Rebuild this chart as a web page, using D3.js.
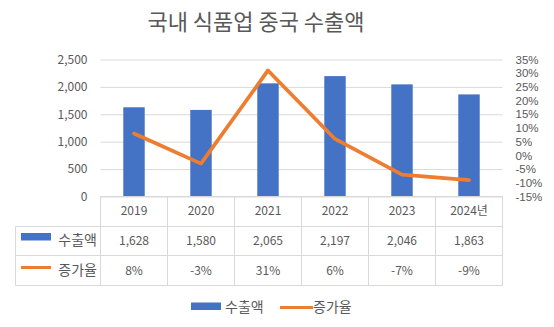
<!DOCTYPE html>
<html>
<head>
<meta charset="utf-8">
<script src="https://cdn.jsdelivr.net/npm/d3@7/dist/d3.min.js"></script>
<style>
  html, body { margin: 0; padding: 0; background: #fff; }
  svg text { font-family: "Noto Sans CJK KR", "Noto Sans", sans-serif; fill: #595959; }
</style>
</head>
<body>
<svg id="chart" width="554" height="327"></svg>
<script>
// Data
const title = "국내 식품업 중국 수출액";
const years = ["2019", "2020", "2021", "2022", "2023", "2024년"];
const exports = [1628, 1580, 2065, 2197, 2046, 1863];
const growth = [8, -3, 31, 6, -7, -9];
const leftTicks = [0, 500, 1000, 1500, 2000, 2500];
const rightTicks = [-15, -10, -5, 0, 5, 10, 15, 20, 25, 30, 35];
const seriesNames = ["수출액", "증가율"];

const blue = "#4472C4", orange = "#ED7D31", grid = "#d9d9d9", textCol = "#595959";

const svg = d3.select("#chart");

const plot = { left: 100.5, right: 502.5, top: 59.5, bottom: 196.5 };
const table = { left: 15.5, rows: [196.5, 226.5, 255.5, 285.5] };

const x = d3.scaleBand().domain(years).range([plot.left, plot.right]).padding(0);
const yL = d3.scaleLinear().domain([0, 2500]).range([plot.bottom, plot.top]);
const yR = d3.scaleLinear().domain([-15, 35]).range([plot.bottom, plot.top]);

// Title
svg.append("text").attr("x", 256).attr("y", 30)
  .attr("text-anchor", "middle").style("font-size", "22px").text(title);

// Left axis with gridlines
const gL = svg.append("g").attr("transform", `translate(${plot.left},0)`)
  .call(d3.axisLeft(yL).tickValues(leftTicks).tickFormat(d3.format(",")).tickSize(-(plot.right - plot.left)).tickPadding(13));
gL.select(".domain").remove();
gL.selectAll(".tick line").attr("stroke", grid);
gL.selectAll(".tick text").style("font-size", "12px").attr("fill", textCol);

// Right axis (tight spacing, so a compact face is used)
const gR = svg.append("g").attr("transform", `translate(${plot.right},0)`)
  .call(d3.axisRight(yR).tickValues(rightTicks).tickFormat(d => d + "%").tickSize(0).tickPadding(13));
gR.select(".domain").remove();
gR.selectAll(".tick text")
  .style("font-family", "'Liberation Sans', Arial, sans-serif")
  .style("font-size", "11.5px").attr("fill", textCol);

// Bars
const bw = x.bandwidth() * 0.32;
svg.append("g").selectAll("rect").data(exports).join("rect")
  .attr("x", (d, i) => x(years[i]) + (x.bandwidth() - bw) / 2)
  .attr("width", bw)
  .attr("y", d => yL(d))
  .attr("height", d => yL(0) - yL(d))
  .attr("fill", blue);

// Growth line
const line = d3.line()
  .x((d, i) => x(years[i]) + x.bandwidth() / 2)
  .y(d => yR(d));
svg.append("path").datum(growth)
  .attr("d", line).attr("fill", "none")
  .attr("stroke", orange).attr("stroke-width", 3.75)
  .attr("stroke-linejoin", "round").attr("stroke-linecap", "round");

// Data table
const tg = svg.append("g");
// horizontal rules
tg.selectAll("line.h").data(table.rows).join("line")
  .attr("x1", (d, i) => i === 0 ? plot.left : table.left).attr("x2", plot.right)
  .attr("y1", d => d).attr("y2", d => d)
  .attr("stroke", grid);
// vertical rules
const vx = years.map(y => x(y)).concat([plot.right]);
tg.selectAll("line.v").data(vx).join("line")
  .attr("x1", d => d).attr("x2", d => d)
  .attr("y1", table.rows[0]).attr("y2", table.rows[3])
  .attr("stroke", grid);
tg.append("line").attr("x1", table.left).attr("x2", table.left)
  .attr("y1", table.rows[1]).attr("y2", table.rows[3]).attr("stroke", grid);

const cx = (i) => x(years[i]) + x.bandwidth() / 2;
// header row
tg.selectAll("text.year").data(years).join("text")
  .attr("x", (d, i) => cx(i)).attr("y", 211).attr("dy", "0.35em")
  .attr("text-anchor", "middle").style("font-size", "12px").text(d => d);
tg.selectAll("text.exp").data(exports).join("text")
  .attr("x", (d, i) => cx(i)).attr("y", 241).attr("dy", "0.35em")
  .attr("text-anchor", "middle").style("font-size", "12px").text(d => d3.format(",")(d));
tg.selectAll("text.gr").data(growth).join("text")
  .attr("x", (d, i) => cx(i)).attr("y", 270.5).attr("dy", "0.35em")
  .attr("text-anchor", "middle").style("font-size", "12px").text(d => d + "%");

// table legend keys
tg.append("rect").attr("x", 21).attr("y", 233).attr("width", 30).attr("height", 7.5).attr("fill", blue);
tg.append("line").attr("x1", 21).attr("x2", 51).attr("y1", 267.5).attr("y2", 267.5)
  .attr("stroke", orange).attr("stroke-width", 3);
tg.append("text").attr("x", 97).attr("y", 240.5).attr("dy", "0.35em").attr("text-anchor", "end")
  .style("font-size", "14px").text(seriesNames[0]);
tg.append("text").attr("x", 97).attr("y", 270).attr("dy", "0.35em").attr("text-anchor", "end")
  .style("font-size", "14px").text(seriesNames[1]);

// Bottom legend
const lg = svg.append("g");
lg.append("rect").attr("x", 191).attr("y", 302.5).attr("width", 30).attr("height", 7.5).attr("fill", blue);
lg.append("text").attr("x", 225).attr("y", 307).attr("dy", "0.35em").style("font-size", "14px").text(seriesNames[0]);
lg.append("line").attr("x1", 280).attr("x2", 313).attr("y1", 307.5).attr("y2", 307.5)
  .attr("stroke", orange).attr("stroke-width", 3);
lg.append("text").attr("x", 313).attr("y", 307).attr("dy", "0.35em").style("font-size", "14px").text(seriesNames[1]);
</script>
</body>
</html>
